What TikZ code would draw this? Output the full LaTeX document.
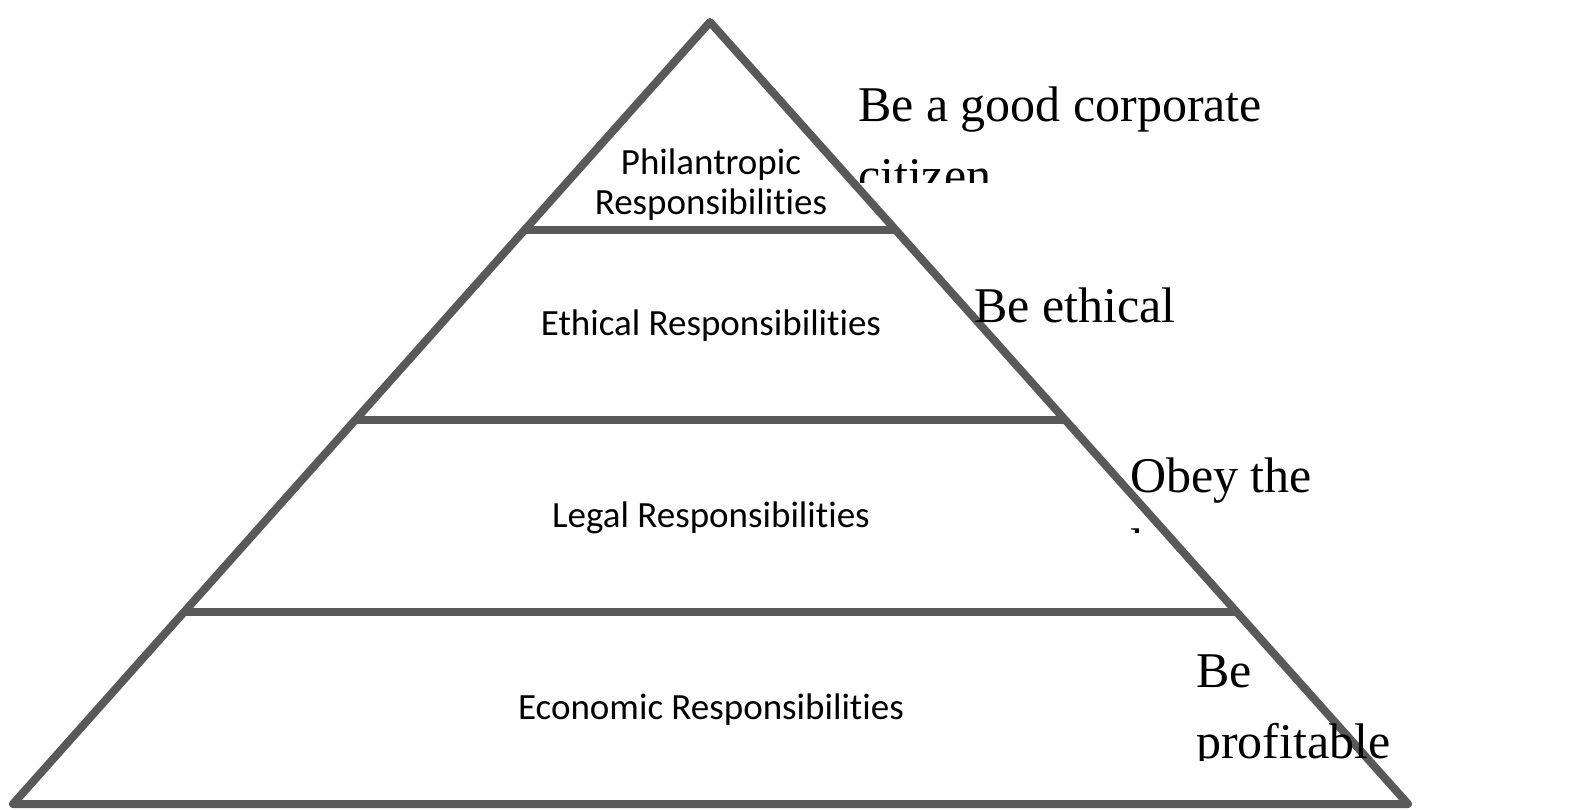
\documentclass[tikz,border=0pt]{standalone}
\usepackage{fontspec}
\setmainfont{Liberation Serif}
\newfontfamily\calfont[Ligatures=NoCommon]{Carlito}
\definecolor{pyrgray}{RGB}{89,89,89}
\begin{document}
\begin{tikzpicture}[x=1pt,y=-1pt,
  pyrline/.style={draw=pyrgray,line width=8pt,line join=round,line cap=round},
  tier/.style={font=\calfont\fontsize{37}{44}\selectfont,inner sep=0pt,outer sep=0pt,align=center},
  side/.style={font=\fontsize{50}{60}\selectfont,inner sep=0pt,outer sep=0pt,anchor=base west}]
\useasboundingbox (0,0) rectangle (1582,810);
% pyramid
\coordinate (apex) at (710,22);
\coordinate (bl) at (13,804);
\coordinate (br) at (1408,804);
\draw[pyrline] (apex) -- (bl) -- (br) -- cycle;
% tier lines
\path (apex) -- (bl) coordinate[pos={(230-22)/782}] (l1)
      (apex) -- (br) coordinate[pos={(230-22)/782}] (r1)
      (apex) -- (bl) coordinate[pos={(420-22)/782}] (l2)
      (apex) -- (br) coordinate[pos={(420-22)/782}] (r2)
      (apex) -- (bl) coordinate[pos={(612-22)/782}] (l3)
      (apex) -- (br) coordinate[pos={(612-22)/782}] (r3);
\draw[pyrline,line cap=butt] (l1) -- (r1);
\draw[pyrline,line cap=butt] (l2) -- (r2);
\draw[pyrline,line cap=butt] (l3) -- (r3);
% tier labels
\node[tier] (phil) at (711,185) {Philantropic\\[-4pt]Responsibilities};
\node[tier] (eth) at (711,326) {Ethical Responsibilities};
\node[tier] (leg) at (711,518) {Legal Responsibilities};
\node[tier] (eco) at (711,710) {Economic Responsibilities};
% side labels (clipped text boxes)
\begin{scope}
\clip (840,50) rectangle (1300,183);
\node[side] (s1a) at (858,122) {Be a good corporate};
\node[side] (s1b) at (858,193) {citizen};
\end{scope}
\node[side] (s2) at (974,323) {Be ethical};
\begin{scope}
\clip (1110,420) rectangle (1350,532);
\node[side] (s3a) at (1130,492) {Obey the};
\node[side] (s3b) at (1130,563) {law};
\end{scope}
\begin{scope}
\clip (1180,620) rectangle (1420,760);
\node[side] (s4a) at (1196,687) {Be};
\node[side] (s4b) at (1196,758) {profitable};
\end{scope}
\end{tikzpicture}
\end{document}
